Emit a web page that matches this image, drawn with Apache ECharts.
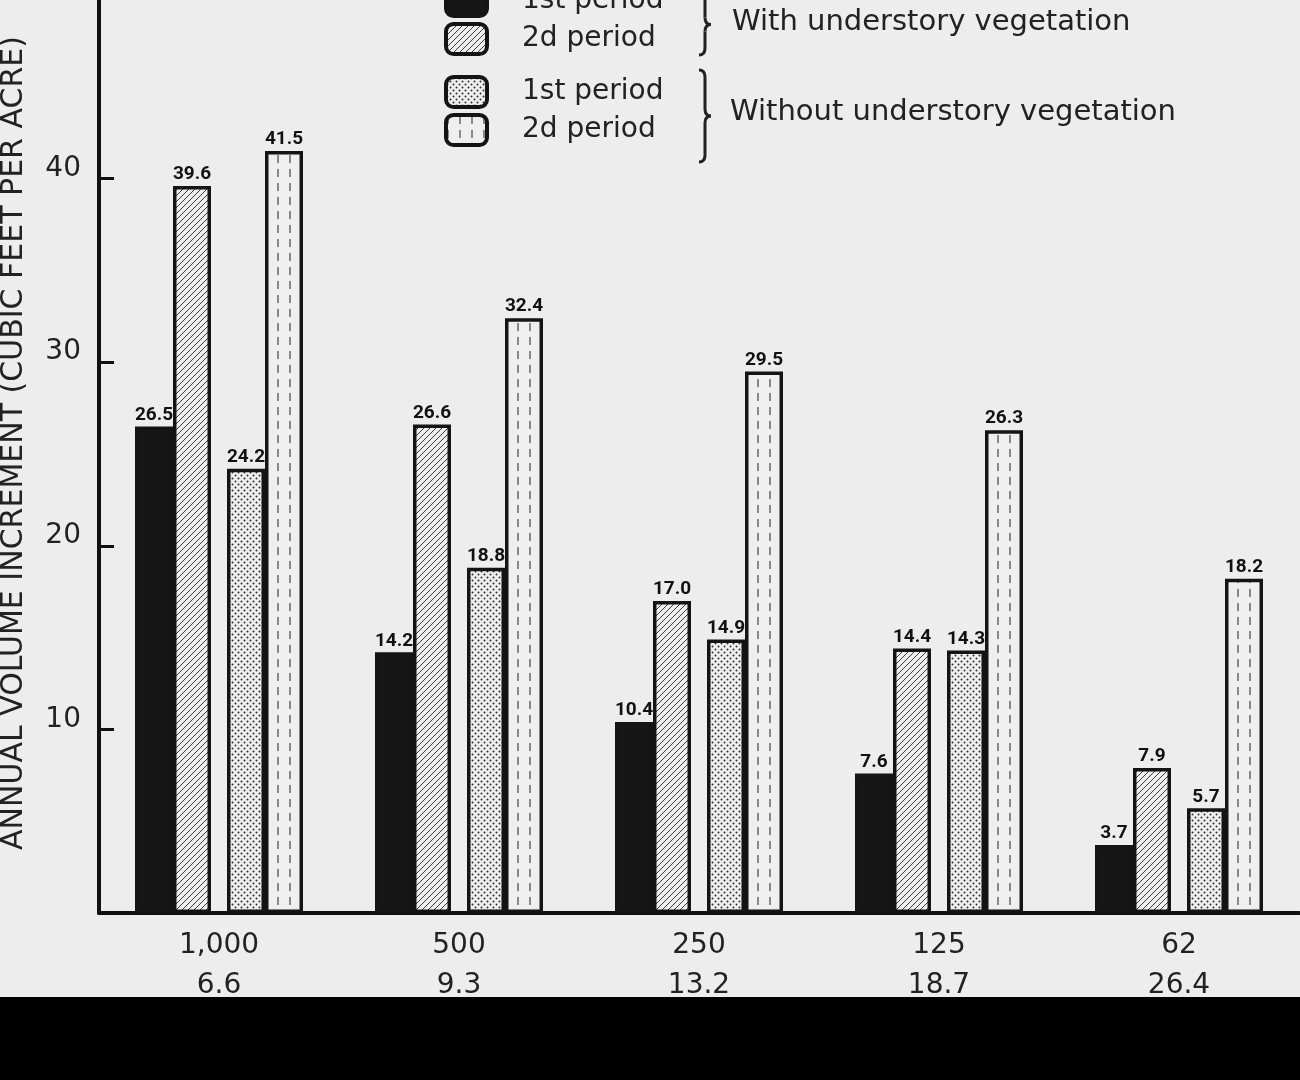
<!DOCTYPE html>
<html>
<head>
<meta charset="utf-8">
<script src="https://cdn.jsdelivr.net/npm/echarts@6/dist/echarts.min.js"></script>
<style>
html,body{margin:0;padding:0;background:#ededed;}
#chart{width:1300px;height:1080px;}
</style>
</head>
<body>
<div id="chart"></div>
<script>
// ---- data ----
const treesPerAcre = ['1,000', '500', '250', '125', '62'];
const spacingFeet = ['6.6', '9.3', '13.2', '18.7', '26.4'];
const withFirst = [26.5, 14.2, 10.4, 7.6, 3.7];
const withSecond = [39.6, 26.6, 17.0, 14.4, 7.9];
const withoutFirst = [24.2, 18.8, 14.9, 14.3, 5.7];
const withoutSecond = [41.5, 32.4, 29.5, 26.3, 18.2];
const yTickLabels = [10, 20, 30, 40];
const groupWith = 'With understory vegetation';
const groupWithout = 'Without understory vegetation';
const periodNames = ['1st period', '2d period'];

// ---- patterns ----
const BG = '#efefef';
function tile(w, h, draw) {
  const c = document.createElement('canvas');
  c.width = w; c.height = h;
  const ctx = c.getContext('2d');
  ctx.fillStyle = BG; ctx.fillRect(0, 0, w, h);
  draw(ctx);
  return c;
}
const hatch = tile(6, 6, ctx => {
  ctx.strokeStyle = '#3a3a3a'; ctx.lineWidth = 1.0;
  ctx.beginPath();
  ctx.moveTo(-1, 7); ctx.lineTo(7, -1);
  ctx.moveTo(-4, 4); ctx.lineTo(4, -4);
  ctx.moveTo(2, 10); ctx.lineTo(10, 2);
  ctx.stroke();
});
const dots = tile(6, 6, ctx => {
  ctx.fillStyle = '#2a2a2a';
  ctx.beginPath(); ctx.arc(1.5, 1.5, 0.95, 0, Math.PI * 2); ctx.fill();
  ctx.beginPath(); ctx.arc(4.5, 4.5, 0.95, 0, Math.PI * 2); ctx.fill();
});
const dashes = tile(12, 14, ctx => {
  ctx.strokeStyle = '#444'; ctx.lineWidth = 1.2;
  ctx.beginPath(); ctx.moveTo(2, 1); ctx.lineTo(2, 9); ctx.stroke();
});

const categories = treesPerAcre.map((t, i) => t + '\n' + spacingFeet[i]);
const BORDER = '#141414';
const labelCfg = {
  show: true, position: 'top', distance: 2,
  fontFamily: 'Roboto', fontWeight: 'bold', fontSize: 19, color: '#111',
  formatter: p => Number(p.value).toFixed(1)
};
function barSeries(name, data, fill) {
  return {
    type: 'bar', name: name, data: data, barWidth: 38, barGap: '0%',
    itemStyle: { color: fill, borderColor: BORDER, borderWidth: 3.5 },
    label: labelCfg, emphasis: { disabled: true }, z: 2
  };
}
const sWith1 = groupWith + ' | ' + periodNames[0];
const sWith2 = groupWith + ' | ' + periodNames[1];
const sWo1 = groupWithout + ' | ' + periodNames[0];
const sWo2 = groupWithout + ' | ' + periodNames[1];

// curly brace made of quadratic curves and lines
function brace(x, y0, y1, w) {
  const ym = (y0 + y1) / 2, r = 7, xm = x + w / 2;
  const st = { stroke: '#222', lineWidth: 3, fill: null };
  return [
    { type: 'bezierCurve', shape: { x1: x, y1: y0, cpx1: xm, cpy1: y0, x2: xm, y2: y0 + r }, style: st },
    { type: 'line', shape: { x1: xm, y1: y0 + r, x2: xm, y2: ym - r }, style: st },
    { type: 'bezierCurve', shape: { x1: xm, y1: ym - r, cpx1: xm, cpy1: ym, x2: x + w, y2: ym }, style: st },
    { type: 'bezierCurve', shape: { x1: x + w, y1: ym, cpx1: xm, cpy1: ym, x2: xm, y2: ym + r }, style: st },
    { type: 'line', shape: { x1: xm, y1: ym + r, x2: xm, y2: y1 - r }, style: st },
    { type: 'bezierCurve', shape: { x1: xm, y1: y1 - r, cpx1: xm, cpy1: y1, x2: x, y2: y1 }, style: st }
  ];
}

const legendBase = {
  orient: 'vertical', left: 439, itemWidth: 41, itemHeight: 30, itemGap: 4,
  icon: 'roundRect',
  itemStyle: { borderColor: BORDER, borderWidth: 4 },
  textStyle: { fontFamily: 'DejaVu Sans', fontSize: 28, lineHeight: 30, color: '#222', padding: [0, 0, 0, 30] },
  formatter: n => n.split(' | ')[1],
  selectedMode: false
};

const chart = echarts.init(document.getElementById('chart'), null, { renderer: 'canvas' });
chart.setOption({
  backgroundColor: '#ededed',
  animation: false,
  grid: { left: 99, right: 1, top: -5, bottom: 167, outerBoundsMode: 'none', containLabel: false },
  legend: [
    Object.assign({}, legendBase, { top: -21, data: [sWith1, sWith2] }),
    Object.assign({}, legendBase, { top: 70, data: [sWo1, sWo2] })
  ],
  xAxis: {
    type: 'category', data: categories,
    axisLine: { lineStyle: { color: '#111', width: 4 } },
    axisTick: { show: false },
    axisLabel: { fontFamily: 'DejaVu Sans', fontSize: 28, color: '#222', lineHeight: 40, margin: 13 }
  },
  yAxis: {
    type: 'value', min: 0, max: 50, interval: 10,
    name: 'ANNUAL VOLUME INCREMENT (CUBIC FEET PER ACRE)',
    nameLocation: 'middle', nameRotate: 90, nameGap: 70,
    nameTextStyle: { fontFamily: 'DejaVu Sans', fontSize: 30, color: '#222', padding: [0, 0, 0, 22] },
    axisLine: { show: true, lineStyle: { color: '#111', width: 4 } },
    axisTick: { show: true, inside: true, length: 15, lineStyle: { color: '#111', width: 3 } },
    splitLine: { show: false },
    axisLabel: {
      fontFamily: 'DejaVu Sans', fontSize: 28, color: '#222', margin: 18,
      verticalAlign: 'bottom', lineHeight: 20,
      formatter: v => (yTickLabels.indexOf(v) >= 0 ? String(v) : '')
    }
  },
  series: [
    barSeries(sWith1, withFirst, '#161616'),
    barSeries(sWith2, withSecond, { image: hatch, repeat: 'repeat' }),
    { type: 'bar', name: 'gap', data: withFirst.map(() => '-'), barWidth: 16, barGap: '0%', silent: true },
    barSeries(sWo1, withoutFirst, { image: dots, repeat: 'repeat' }),
    barSeries(sWo2, withoutSecond, { image: dashes, repeat: 'repeat' })
  ],
  graphic: [].concat(
    brace(699, -6, 55, 12),
    brace(699, 70, 162, 12),
    [
      { type: 'text', left: 732, top: 8, style: { text: groupWith, font: '29px "DejaVu Sans"', fill: '#222' } },
      { type: 'text', left: 730, top: 98, style: { text: groupWithout, font: '29px "DejaVu Sans"', fill: '#222' } },
      { type: 'rect', left: 0, top: 997, z: 100, shape: { width: 1300, height: 83 }, style: { fill: '#000' } }
    ]
  )
});
</script>
</body>
</html>
